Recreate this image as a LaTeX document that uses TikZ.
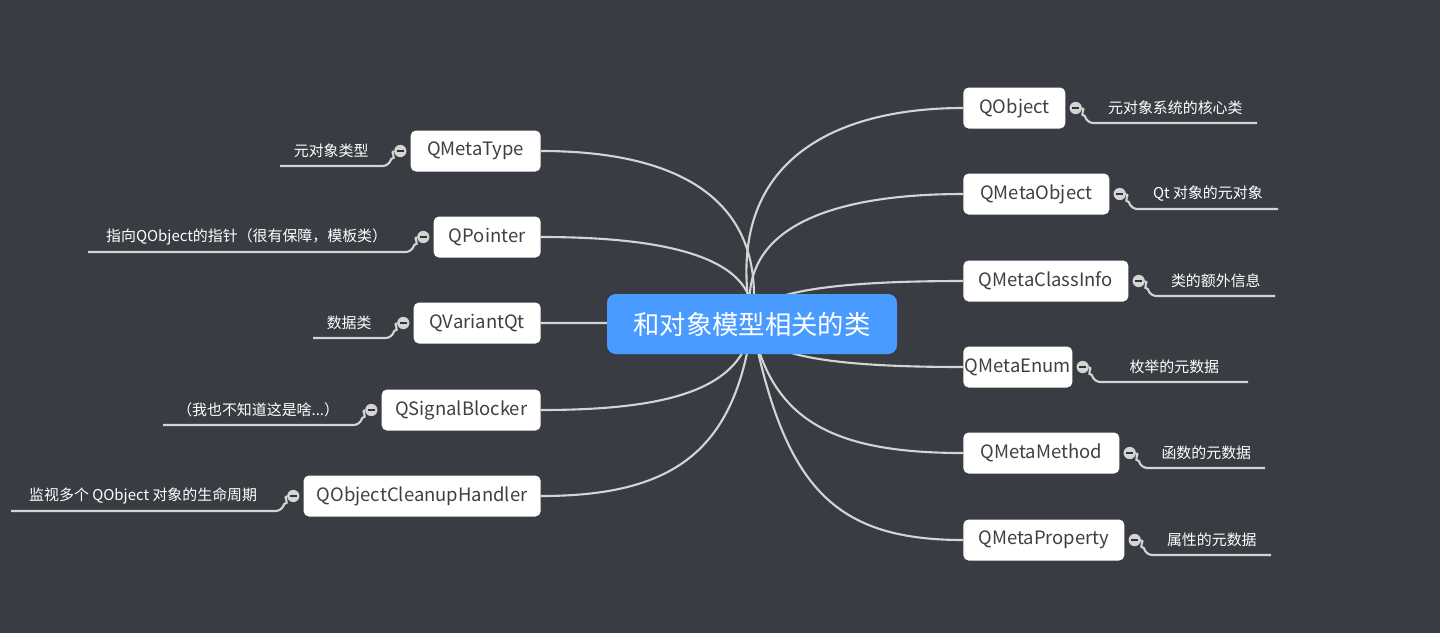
\documentclass[tikz,border=0pt]{standalone}
\usepackage{fontspec}
\setmainfont{Noto Sans CJK SC}
\usetikzlibrary{calc}
\pgfdeclarelayer{back}
\pgfsetlayers{back,main}
\definecolor{bgc}{HTML}{393C42}
\definecolor{hubc}{HTML}{4A9BFF}
\definecolor{linec}{HTML}{D4D4D4}
\newcommand\mydotsq{.{}.{}.}
\tikzset{
 item/.style={draw=none,fill=white,rounded corners=3pt,minimum height=41*0.02cm,inner xsep=0pt,font=\fontsize{10.5pt}{12pt}\selectfont,text=black!75},
 conn/.style={draw=linec,line width=1.2pt},
 fold/.style={circle,fill=linec,inner sep=0pt,minimum size=7pt,path picture={\draw[black!80,line width=1pt] ([xshift=-2pt]path picture bounding box.center)--([xshift=2pt]path picture bounding box.center);}},
 lab/.style={text=white,font=\fontsize{8.5pt}{10pt}\selectfont,inner sep=1pt}
}
\begin{document}
\begin{tikzpicture}[x=0.02cm,y=-0.02cm]
\begin{pgfonlayer}{back}
\fill[bgc] (0,0) rectangle (1440,633);
\end{pgfonlayer}
\useasboundingbox (0,0) rectangle (1440,633);
\coordinate (hub) at (752,324);
\node[fill=hubc,rounded corners=5pt,minimum width=290*0.02cm,minimum height=60*0.02cm,text=white,font=\fontsize{15pt}{18pt}\selectfont] (center) at (752,324) {和对象模型相关的类};
\foreach \n/\w/\y/\t/\e [count=\i] in {
 QObject/102/108/元对象系统的核心类/1257,
 QMetaObject/146/194/Qt 对象的元对象/1278,
 QMetaClassInfo/165/281/类的额外信息/1275,
 QMetaEnum/109/367/枚举的元数据/1248,
 QMetaMethod/156/453/函数的元数据/1265,
 QMetaProperty/161/540/属性的元数据/1271}{
 \node[item,minimum width=\w*0.02cm,anchor=west] (r\i) at (963,\y) {\n};
 \node[fold] (rf\i) at ($(r\i.east)+(10,0)$) {};
 \coordinate (ru\i) at ($(rf\i)+(18,15)$);
 \coordinate (re\i) at (\e,\y+15);
 \node[lab] (rl\i) at ($(ru\i)!0.5!(re\i)+(0,-15)$) {\t};
 \begin{pgfonlayer}{back}
 \pgfmathsetmacro{\dy}{\y-324}
 \draw[conn] (hub) .. controls +(0.15*\dy,0.75*\dy) and +(-130,0) .. (r\i.west);
 \draw[conn] (rf\i.east) .. controls +(4,0) and +(-6,0) .. ($(rf\i)+(9,8)$) .. controls +(2,5) and +(-4,0) .. (ru\i) -- (re\i);
 \end{pgfonlayer}
}
\foreach \n/\x/\y/\t/\e [count=\i] in {
 QMetaType/411/151/元对象类型/280,
 QPointer/434/237/指向QObject的指针（很有保障，模板类）/88,
 QVariantQt/414/323/数据类/313,
 QSignalBlocker/382/410/（我也不知道这是啥\mydotsq）/163,
 QObjectCleanupHandler/304/496/监视多个 QObject 对象的生命周期/11}{
 \pgfmathsetmacro{\w}{541-\x}
 \node[item,minimum width=\w*0.02cm,anchor=east] (l\i) at (541,\y) {\n};
 \node[fold] (lf\i) at ($(l\i.west)+(-10,0)$) {};
 \coordinate (lu\i) at ($(lf\i)+(-18,15)$);
 \coordinate (le\i) at (\e,\y+15);
 \node[lab] (ll\i) at ($(lu\i)!0.5!(le\i)+(0,-15)$) {\t};
 \begin{pgfonlayer}{back}
 \pgfmathsetmacro{\dy}{\y-324}
 \draw[conn] (hub) .. controls +(-0.1*\dy,0.75*\dy) and +(130,0) .. (l\i.east);
 \draw[conn] (lf\i.west) .. controls +(-4,0) and +(6,0) .. ($(lf\i)+(-9,8)$) .. controls +(-2,5) and +(4,0) .. (lu\i) -- (le\i);
 \end{pgfonlayer}
}
\end{tikzpicture}
\end{document}
